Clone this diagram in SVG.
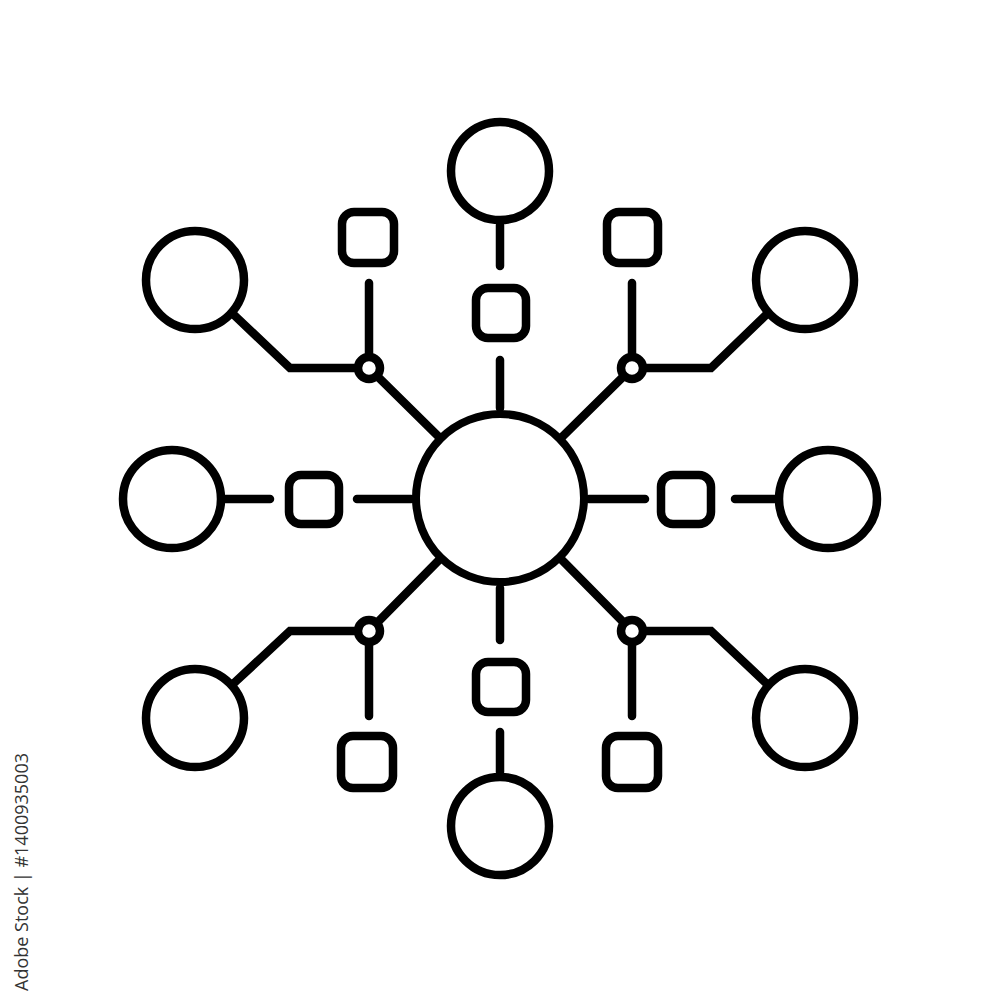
<svg xmlns="http://www.w3.org/2000/svg" width="1000" height="1000" viewBox="0 0 1000 1000">
  <style>
    .ring{fill:#fff;stroke:#000;stroke-width:8.5}
    .hub{fill:#fff;stroke:#000;stroke-width:8}
    .box{fill:#fff;stroke:#000;stroke-width:8.5}
    .dot{fill:#fff;stroke:#000;stroke-width:8.5}
    .ln{fill:none;stroke:#000;stroke-width:8.5;stroke-linecap:round;stroke-linejoin:miter}
    .credit{font-family:"Open Sans","Noto Sans",sans-serif;font-size:18px;fill:#333}
  </style>
  <rect width="1000" height="1000" fill="#fff"/>
  <g id="connectors">
    <line class="ln" x1="500" y1="225" x2="500" y2="266"/>
    <line class="ln" x1="500" y1="360" x2="500" y2="408"/>
    <line class="ln" x1="500" y1="588" x2="500" y2="640"/>
    <line class="ln" x1="500" y1="732" x2="500" y2="772"/>
    <line class="ln" x1="220" y1="499" x2="270" y2="499"/>
    <line class="ln" x1="357" y1="499" x2="411" y2="499"/>
    <line class="ln" x1="589" y1="499" x2="645" y2="499"/>
    <line class="ln" x1="735" y1="499" x2="776" y2="499"/>
    <line class="ln" x1="369" y1="368" x2="441" y2="439"/>
    <line class="ln" x1="632" y1="368" x2="560" y2="439"/>
    <line class="ln" x1="369" y1="631" x2="441" y2="558"/>
    <line class="ln" x1="632" y1="631" x2="560" y2="558"/>
    <polyline class="ln" points="369,368 290,368 233,314"/>
    <polyline class="ln" points="632,368 711,368 767,314"/>
    <polyline class="ln" points="369,631 290,631 233,684"/>
    <polyline class="ln" points="632,631 711,631 767,684"/>
    <line class="ln" x1="369" y1="283" x2="369" y2="368"/>
    <line class="ln" x1="632" y1="283" x2="632" y2="368"/>
    <line class="ln" x1="369" y1="631" x2="369" y2="716"/>
    <line class="ln" x1="632" y1="631" x2="632" y2="716"/>
  </g>
  <g id="hub"><circle class="hub" cx="500" cy="498" r="84"/></g>
  <g id="j-tl"><circle class="dot" cx="369" cy="368" r="11"/></g>
  <g id="j-tr"><circle class="dot" cx="632" cy="368" r="11"/></g>
  <g id="j-bl"><circle class="dot" cx="369" cy="631" r="11"/></g>
  <g id="j-br"><circle class="dot" cx="632" cy="631" r="11"/></g>
  <g id="c-top"><circle class="ring" cx="500" cy="171" r="49"/></g>
  <g id="c-bottom"><circle class="ring" cx="500" cy="826" r="49"/></g>
  <g id="c-left"><circle class="ring" cx="172" cy="499" r="49"/></g>
  <g id="c-right"><circle class="ring" cx="828" cy="499" r="49"/></g>
  <g id="c-tl"><circle class="ring" cx="195" cy="280" r="49"/></g>
  <g id="c-tr"><circle class="ring" cx="805" cy="280" r="49"/></g>
  <g id="c-bl"><circle class="ring" cx="195" cy="718" r="49"/></g>
  <g id="c-br"><circle class="ring" cx="805" cy="718" r="49"/></g>
  <g id="b-top"><rect class="box" x="476" y="288" width="50" height="50" rx="12"/></g>
  <g id="b-bottom"><rect class="box" x="476" y="662" width="50" height="50" rx="12"/></g>
  <g id="b-left"><rect class="box" x="289" y="475" width="50" height="49" rx="12"/></g>
  <g id="b-right"><rect class="box" x="661" y="475" width="50" height="49" rx="12"/></g>
  <g id="b-tl"><rect class="box" x="342" y="212" width="52" height="51" rx="12"/></g>
  <g id="b-tr"><rect class="box" x="607" y="212" width="51" height="51" rx="12"/></g>
  <g id="b-bl"><rect class="box" x="341" y="736" width="52" height="52" rx="12"/></g>
  <g id="b-br"><rect class="box" x="606" y="736" width="52" height="52" rx="12"/></g>
  <text class="credit" transform="translate(28,991) rotate(-90)">Adobe Stock | #1400935003</text>
</svg>
